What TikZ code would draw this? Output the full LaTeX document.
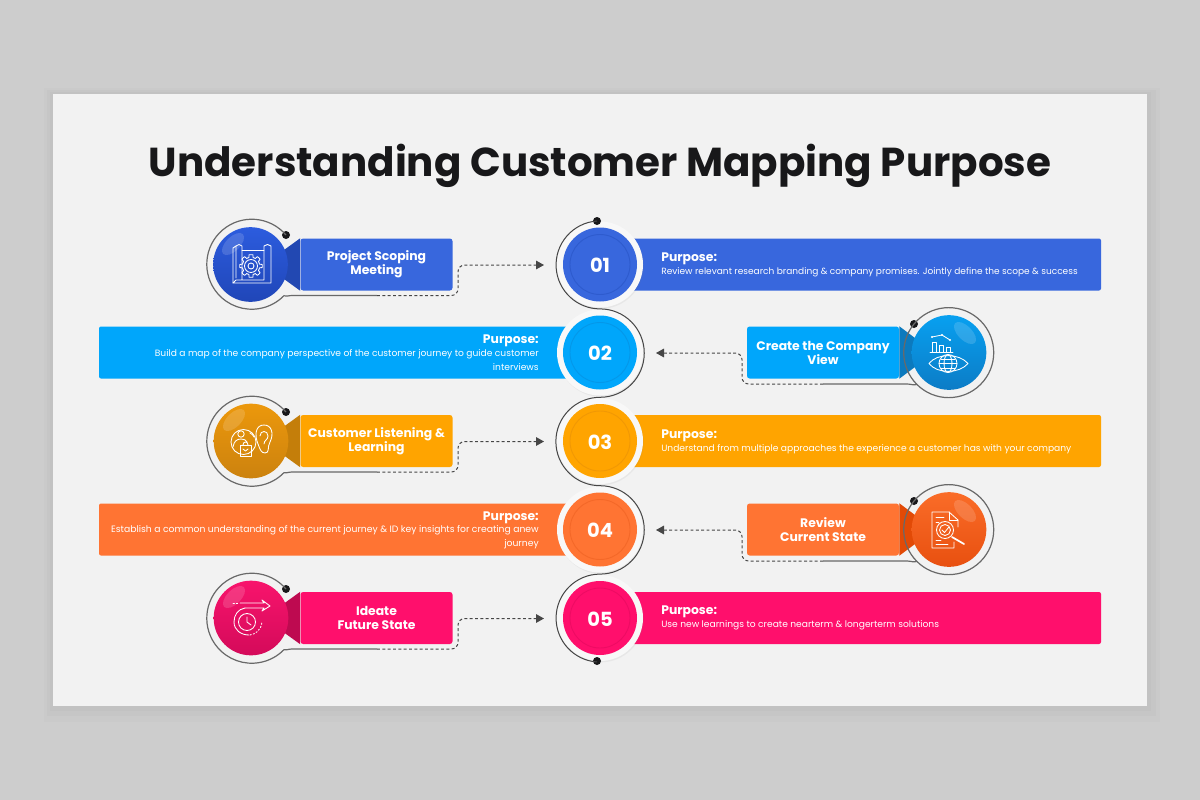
\documentclass[tikz,border=0pt]{standalone}
\usepackage{fontspec}
\setmainfont{Poppins}
\usetikzlibrary{arrows.meta,shadows}

\definecolor{pagegrey}{RGB}{205,205,205}
\definecolor{slidegrey}{RGB}{242,242,242}
\definecolor{haloc}{RGB}{248,248,248}
\definecolor{inkc}{RGB}{24,24,26}
\definecolor{linec}{RGB}{70,70,70}
\definecolor{ringc}{RGB}{105,105,105}
\definecolor{bluebar}{RGB}{56,103,221}
\definecolor{bluering}{RGB}{42,86,200}
\definecolor{bluetop}{RGB}{44,92,222}
\definecolor{bluelow}{RGB}{32,70,184}
\definecolor{bluewedge}{RGB}{34,72,178}
\definecolor{skybar}{RGB}{0,166,251}
\definecolor{skyring}{RGB}{6,146,226}
\definecolor{skytop}{RGB}{8,160,240}
\definecolor{skylow}{RGB}{12,124,198}
\definecolor{skywedge}{RGB}{12,122,190}
\definecolor{ambbar}{RGB}{255,164,0}
\definecolor{ambring}{RGB}{236,148,6}
\definecolor{ambtop}{RGB}{236,152,12}
\definecolor{amblow}{RGB}{204,130,14}
\definecolor{ambwedge}{RGB}{196,126,10}
\definecolor{orgbar}{RGB}{255,116,51}
\definecolor{orgring}{RGB}{240,100,36}
\definecolor{orgtop}{RGB}{250,108,40}
\definecolor{orglow}{RGB}{232,80,16}
\definecolor{orgwedge}{RGB}{226,74,6}
\definecolor{pinkbar}{RGB}{255,15,108}
\definecolor{pinkring}{RGB}{232,10,96}
\definecolor{pinktop}{RGB}{248,20,108}
\definecolor{pinklow}{RGB}{212,10,90}
\definecolor{pinkwedge}{RGB}{190,10,80}

\tikzset{
  rowbar/.style={rounded corners=1.5pt,minimum width=375.75pt,minimum height=39pt,inner sep=0pt},
  topicbox/.style={rounded corners=2pt,minimum width=114pt,minimum height=39pt,inner sep=0pt,text=white,font=\fontsize{9.3}{10.5}\selectfont\bfseries,align=center,execute at begin node={\rule{0pt}{8.6pt}}},
  halo/.style={circle,fill=haloc,minimum size=64.5pt,inner sep=0pt,drop shadow={shadow xshift=.6pt,shadow yshift=-1pt,opacity=.09}},
  numdisc/.style={circle,minimum size=55.5pt,inner sep=0pt,text=white,text height=12.4pt,text depth=0pt,font=\fontsize{14.6}{15}\selectfont\bfseries},
  numring/.style={line width=.7pt,opacity=.7},
  icondisc/.style={circle,minimum size=56pt,inner sep=0pt},
  gloss/.style={fill=white,opacity=.15},
  headtxt/.style={inner sep=0pt,text=white,font=\fontsize{9.3}{11}\selectfont\bfseries},
  bodytxt/.style={inner sep=0pt,text=white,font=\fontsize{6.85}{11}\selectfont},
  curveline/.style={line width=.75pt,draw=linec},
  ringline/.style={line width=.9pt,draw=ringc},
  dashlink/.style={line width=.75pt,draw=linec,dash pattern=on 2.2pt off 1.8pt,rounded corners=5pt,-{Triangle[length=6pt,width=6.5pt]}},
  enddot/.style={circle,fill=inkc,minimum size=6pt,inner sep=0pt},
  iconline/.style={draw=white,line width=.65pt,line join=round,line cap=round}
}

\begin{document}
\begin{tikzpicture}[x=0.75pt,y=0.75pt,yscale=-1,xscale=1]
\useasboundingbox (0,0) rectangle (1200,800);

%Shape: Page and slide
\fill [pagegrey] (0,0) rectangle (1200,800);
\fill [black,opacity=.012] (44,88) rectangle (1160,722);
\fill [black,opacity=.015] (47,90) rectangle (1156,716);
\fill [black,opacity=.02] (50,92) rectangle (1151,711);
\fill [slidegrey] (53,94) rectangle (1147,706);

% Text Node
\node (title) at (600,165.5) [inner sep=0pt,text=inkc,font=\fontsize{30.3}{31}\selectfont\bfseries] {Understanding Customer Mapping Purpose};

%Shape: Long bars
\node (bar01) at (850.5,264.5) [rowbar,fill=bluebar] {};
\node (bar02) at (349.5,352.5) [rowbar,fill=skybar] {};
\node (bar03) at (850.5,441) [rowbar,fill=ambbar] {};
\node (bar04) at (349.5,529.5) [rowbar,fill=orgbar] {};
\node (bar05) at (850.5,618) [rowbar,fill=pinkbar] {};

%Shape: Halos and number discs
\node (halo01) at (600,264.5) [halo] {};
\node (halo02) at (600,352.5) [halo] {};
\node (halo03) at (600,441) [halo] {};
\node (halo04) at (600,529.5) [halo] {};
\node (halo05) at (600,618) [halo] {};
\node (num01) at (600,264.5) [numdisc,fill=bluebar] {01};
\node (num02) at (600,352.5) [numdisc,fill=skybar] {02};
\node (num03) at (600,441) [numdisc,fill=ambbar] {03};
\node (num04) at (600,529.5) [numdisc,fill=orgbar] {04};
\node (num05) at (600,618) [numdisc,fill=pinkbar] {05};
\draw [numring,draw=bluering] (num01) circle (30);
\draw [numring,draw=skyring] (num02) circle (30);
\draw [numring,draw=ambring] (num03) circle (30);
\draw [numring,draw=orgring] (num04) circle (30);
\draw [numring,draw=pinkring] (num05) circle (30);

%Straight Lines: the long curve through the discs
\node (dotTop) at (597,221) [enddot] {};
\node (dotEnd) at (597,661) [enddot] {};
\draw [curveline] (dotTop.center) arc [start angle=266,end angle=90,radius=44] arc [start angle=-90,end angle=90,radius=44.2] arc [start angle=270,end angle=90,radius=44.2] arc [start angle=-90,end angle=90,radius=44.2] arc [start angle=270,end angle=94,radius=44];

% Text Node
\node (head01) at (661,258.5) [headtxt,anchor=west] {Purpose:};
\node (body01) at (661,272) [bodytxt,anchor=west,font=\fontsize{6.77}{11}\selectfont] {Review relevant research branding \& company promises. Jointly define the scope \& success};
\node (head02) at (539,340.5) [headtxt,anchor=east] {Purpose:};
\node (body02) at (539,360) [bodytxt,anchor=east,align=right] {Build a map of the company perspective of the customer journey to guide customer\\interviews};
\node (head03) at (661,435.5) [headtxt,anchor=west] {Purpose:};
\node (body03) at (661,449) [bodytxt,anchor=west] {Understand from multiple approaches the experience a customer has with your company};
\node (head04) at (539,517.5) [headtxt,anchor=east] {Purpose:};
\node (body04) at (539,537) [bodytxt,anchor=east,align=right,font=\fontsize{6.93}{11}\selectfont] {Establish a common understanding of the current journey \& ID key insights for creating anew\\journey};
\node (head05) at (661,612) [headtxt,anchor=west] {Purpose:};
\node (body05) at (661,625.5) [bodytxt,anchor=west] {Use new learnings to create nearterm \& longerterm solutions};

%Shape: Topic boxes
\node (box01) at (376.5,264.5) [topicbox,fill=bluebar] {Project Scoping\\Meeting};
\node (box02) at (823,352.5) [topicbox,fill=skybar] {Create the Company\\View};
\node (box03) at (376.5,441) [topicbox,fill=ambbar] {Customer Listening \&\\Learning};
\node (box04) at (823,529.5) [topicbox,fill=orgbar] {Review\\Current State};
\node (box05) at (376.5,618) [topicbox,fill=pinkbar] {Ideate\\Future State};

%Shape: Wedges
\fill [bluewedge] (box01.north west) -- (284,250) -- (284,279) -- (box01.south west) -- cycle;
\fill [skywedge] (box02.north east) -- (915,338) -- (915,367) -- (box02.south east) -- cycle;
\fill [ambwedge] (box03.north west) -- (284,426.5) -- (284,455.5) -- (box03.south west) -- cycle;
\fill [orgwedge] (box04.north east) -- (915,515) -- (915,544) -- (box04.south east) -- cycle;
\fill [pinkwedge] (box05.north west) -- (284,603.5) -- (284,632.5) -- (box05.south west) -- cycle;

%Shape: Icon discs
\node (disc01) at (250.5,264.5) [icondisc,top color=bluetop,bottom color=bluelow] {};
\node (disc02) at (949,352.5) [icondisc,top color=skytop,bottom color=skylow] {};
\node (disc03) at (251,441) [icondisc,top color=ambtop,bottom color=amblow] {};
\node (disc04) at (949,529.5) [icondisc,top color=orgtop,bottom color=orglow] {};
\node (disc05) at (251,618) [icondisc,top color=pinktop,bottom color=pinklow] {};
\fill [gloss] (233,244) ellipse [x radius=14,y radius=7,rotate=-45];
\fill [gloss] (965,333) ellipse [x radius=14,y radius=7,rotate=45];
\fill [gloss] (234,420) ellipse [x radius=14,y radius=7,rotate=-45];
\fill [gloss] (965,511) ellipse [x radius=14,y radius=7,rotate=45];
\fill [gloss] (234,597) ellipse [x radius=14,y radius=7,rotate=-45];

%Straight Lines: rings, dots and dashed links
\node (dot01) at (286,235) [enddot] {};
\coordinate (tail01) at (377,295.5);
\coordinate (bend01) at (458,265);
\coordinate (tip01) at (544,265);
\draw [ringline] (dot01.center) arc [start angle=319.5,end angle=44.5,radius=45] .. controls (286,297) and (288,295.5) .. (292,295.5) -- (tail01);
\draw [dashlink] (tail01) -| (bend01) -- (tip01);

\node (dot02) at (914,324) [enddot] {};
\coordinate (tail02) at (823,384);
\coordinate (bend02) at (742,353);
\coordinate (tip02) at (656,353);
\draw [ringline] (dot02.center) arc [start angle=219.5,end angle=-225,radius=45] .. controls (913,385.5) and (911,384) .. (907,384) -- (tail02);
\draw [dashlink] (tail02) -| (bend02) -- (tip02);

\node (dot03) at (286,412) [enddot] {};
\coordinate (tail03) at (377,472);
\coordinate (bend03) at (458,441.5);
\coordinate (tip03) at (544,441.5);
\draw [ringline] (dot03.center) arc [start angle=319.5,end angle=44.5,radius=45] .. controls (286,473.5) and (288,472) .. (292,472) -- (tail03);
\draw [dashlink] (tail03) -| (bend03) -- (tip03);

\node (dot04) at (914,501) [enddot] {};
\coordinate (tail04) at (823,561);
\coordinate (bend04) at (742,530);
\coordinate (tip04) at (656,530);
\draw [ringline] (dot04.center) arc [start angle=219.5,end angle=-225,radius=45] .. controls (913,562.5) and (911,561) .. (907,561) -- (tail04);
\draw [dashlink] (tail04) -| (bend04) -- (tip04);

\node (dot05) at (286,589) [enddot] {};
\coordinate (tail05) at (377,649);
\coordinate (bend05) at (458,618.5);
\coordinate (tip05) at (544,618.5);
\draw [ringline] (dot05.center) arc [start angle=319.5,end angle=44.5,radius=45] .. controls (286,650.5) and (288,649) .. (292,649) -- (tail05);
\draw [dashlink] (tail05) -| (bend05) -- (tip05);

%Shape: Icon 01, plan with gear
\draw [iconline] (236,246) -- (236,278) (236,246) .. controls (238,244) and (240,244) .. (242,246) -- (242,280) -- (236,280) -- (233,283) -- (271,283) -- (271,246) .. controls (269,244) and (266,244) .. (264,246) -- (264,280) -- (242,280);
\draw [iconline] (233,283) -- (233,248) -- (236,246);
\draw [iconline] (242,250) -- (264,250);
\draw [iconline] plot [domain=0:360,samples=91] ({251+(10+1.3*sign(cos(8*\x)))*cos(\x)},{266+(10+1.3*sign(cos(8*\x)))*sin(\x)});
\draw [iconline] (251,266) circle (6.5);
\draw [iconline] (251,266) circle (3);

%Shape: Icon 02, chart and eye
\draw [iconline] (930,352) -- (953,352);
\draw [iconline] (932,352) -- (932,342) -- (936,342) -- (936,352) (939,352) -- (939,345) -- (943,345) -- (943,352) (946,352) -- (946,347) -- (950,347) -- (950,352);
\draw [iconline] (932,337) -- (942,335) -- (950,340);
\fill [white] (932,337) circle (1.2) (942,335) circle (1.2) (950,340) circle (1.2);
\draw [iconline] (929,363.5) .. controls (937,353) and (959,353) .. (968,363.5) .. controls (959,374) and (937,374) .. (929,363.5) -- cycle;
\draw [iconline] (948,363.5) circle (9);
\draw [iconline] (948,363.5) ellipse [x radius=4,y radius=9];
\draw [iconline] (939,363.5) -- (957,363.5) (941,359) -- (955,359) (941,368) -- (955,368);

%Shape: Icon 03, listening
\draw [iconline] (243.5,442) circle (12.5);
\draw [iconline] (241,434) circle (3.2);
\draw [iconline] (233,447) .. controls (234,441) and (237,439) .. (241,439) .. controls (244,439) and (246,440) .. (247,442);
\draw [iconline] (240,445) -- (251,445) -- (251,456) -- (240,456) -- cycle;
\draw [iconline] (243,445) .. controls (243,441) and (248,441) .. (248,445) (243,449) -- (245.5,451) -- (248,449);
\draw [iconline] (258,444) .. controls (254,434) and (256,425) .. (264,425) .. controls (272,425) and (274,434) .. (270,442) .. controls (267,447) and (270,453) .. (265,453) .. controls (261,453) and (260,449) .. (258,444) -- cycle;
\draw [iconline] (260,436) .. controls (260,430) and (268,430) .. (268,436) .. controls (268,440) and (264,440) .. (264,444);
\draw [iconline] (250,433) .. controls (252,434) and (253,435) .. (254,437);

%Shape: Icon 04, document and lens
\draw [iconline] (954,542) -- (954,548) -- (932,548) -- (932,512) -- (949,512) -- (958,520) -- (958,527);
\draw [iconline] (949,512) -- (949,520) -- (958,520);
\draw [iconline] (936,517) -- (944,517) (936,522) -- (939,522) (936,540) -- (941,540) (936,544) -- (948,544);
\draw [iconline] (945,530) circle (8.5);
\draw [iconline] (945,530) circle (5.5);
\draw [iconline] (942,530) -- (944.5,532.5) -- (948.5,527.5);
\draw [iconline,line width=1.3pt] (952,537) -- (964,544);

%Shape: Icon 05, arrow and clock
\draw [iconline,dash pattern=on 1pt off 1.5pt] (233,603) -- (238,603);
\draw [iconline] (240,603) -- (264,603) -- (262,600) -- (270,606) -- (262,611) -- (264,608) -- (245,608);
\draw [iconline] (245,608) .. controls (238,609) and (234,615) .. (234,622) .. controls (234,630) and (241,635) .. (249,635);
\draw [iconline] (247,622) circle (8.5);
\draw [iconline] (247,617) -- (247,622) -- (251,625);
\draw [iconline,dash pattern=on 1pt off 1.5pt] (250,635) .. controls (256,634) and (261,630) .. (262,622);

\end{tikzpicture}
\end{document}
